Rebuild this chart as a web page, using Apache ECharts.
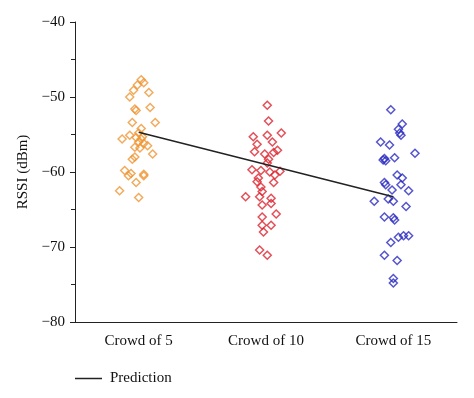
<!DOCTYPE html>
<html>
<head>
<meta charset="utf-8">
<title>RSSI by crowd size</title>
<script src="https://cdn.jsdelivr.net/npm/echarts@6/dist/echarts.min.js"></script>
<style>
  html, body { margin: 0; padding: 0; background: #fff; }
  #chart { width: 474px; height: 398px; }
</style>
</head>
<body>
<div id="chart"></div>
<script>
const categories = ['Crowd of 5', 'Crowd of 10', 'Crowd of 15']
const yTicks = [-80, -70, -60, -50, -40]

// [x position (jittered around the category index), RSSI]
const crowd5 = [
  [1.02, -47.7], [1.04, -48.1], [0.99, -48.4], [0.96, -49.1], [0.93, -50.0],
  [1.08, -49.4], [0.97, -51.6], [0.98, -51.8], [1.09, -51.4], [0.95, -53.4],
  [1.13, -53.4], [1.02, -54.2], [0.87, -55.6], [0.93, -55.1], [0.98, -55.4],
  [1.02, -55.6], [1.00, -56.0], [1.04, -56.2], [1.07, -56.5], [0.97, -56.7],
  [1.01, -56.8], [1.11, -57.6], [0.97, -58.0], [0.95, -58.3], [0.89, -59.8],
  [0.92, -60.5], [1.04, -60.3], [0.98, -61.4], [0.85, -62.5], [1.00, -63.4],
  [1.00, -54.8], [1.03, -55.3], [0.94, -60.2], [1.04, -60.5]
]
const crowd10 = [
  [2.01, -51.1], [2.02, -53.2], [1.90, -55.3], [2.01, -55.1], [2.12, -54.8],
  [1.93, -56.3], [2.05, -56.0], [1.91, -57.3], [2.09, -57.1], [2.06, -57.4],
  [1.99, -57.6], [2.02, -58.3], [2.01, -58.8], [1.89, -59.7], [1.96, -59.8],
  [2.03, -60.0], [2.11, -59.9], [2.07, -60.4], [1.94, -60.8], [1.93, -61.3],
  [2.06, -61.4], [1.96, -62.0], [1.97, -62.6], [1.84, -63.3], [1.95, -63.3],
  [2.04, -63.5], [2.04, -64.2], [1.97, -64.4], [2.08, -65.6], [1.97, -66.0],
  [1.97, -67.1], [2.04, -67.1], [1.98, -68.0], [1.95, -70.4], [2.01, -71.1]
]
const crowd15 = [
  [2.98, -51.7], [3.07, -53.6], [3.04, -54.3], [3.05, -54.8], [3.06, -55.1],
  [2.90, -56.0], [2.97, -56.4], [3.17, -57.5], [2.93, -58.2], [2.94, -58.5],
  [3.01, -58.1], [2.92, -58.4], [3.03, -60.4], [3.07, -60.8], [2.93, -61.4],
  [2.94, -61.7], [3.06, -61.7], [2.99, -62.4], [3.12, -62.5], [2.85, -63.9],
  [2.96, -63.6], [3.00, -63.9], [3.10, -64.6], [2.93, -66.0], [3.00, -66.1],
  [3.01, -66.4], [2.98, -69.4], [3.04, -68.7], [3.08, -68.5], [3.12, -68.5],
  [2.93, -71.1], [3.03, -71.8], [3.00, -74.2], [3.00, -74.8]
]
const prediction = [[1, -54.7], [2, -59.0], [3, -63.3]]

const font = '"Liberation Serif", "DejaVu Serif", serif'
const axisColor = '#222'

const chart = echarts.init(document.getElementById('chart'))

const scatter = (data, color) => ({
  type: 'scatter',
  xAxisIndex: 1,
  data,
  symbol: 'diamond',
  symbolSize: [8, 8],
  itemStyle: { color: 'rgba(0,0,0,0)', borderColor: color, borderWidth: 1.5 },
  silent: true,
})

chart.setOption({
  animation: false,
  textStyle: { fontFamily: font },
  grid: { left: 75, right: 17, top: 22, bottom: 76 },
  legend: {
    data: [{ name: 'Prediction', icon: 'rect' }],
    left: 70,
    top: 366,
    itemWidth: 27,
    itemHeight: 1.5,
    itemGap: 6,
    textStyle: { fontFamily: font, fontSize: 15, color: '#111', padding: [0, 0, 0, 3] },
  },
  xAxis: [
    {
      type: 'category',
      data: categories,
      boundaryGap: true,
      axisLine: { lineStyle: { color: axisColor, width: 1 } },
      axisTick: { alignWithLabel: true, length: 4, lineStyle: { color: axisColor } },
      axisLabel: { margin: 12, fontFamily: font, fontSize: 15, color: '#111' },
    },
    { type: 'value', min: 0.5, max: 3.5, show: false },
  ],
  yAxis: {
    type: 'value',
    min: yTicks[0],
    max: yTicks[yTicks.length - 1],
    interval: 10,
    name: 'RSSI (dBm)',
    nameLocation: 'middle',
    nameRotate: 90,
    nameGap: 42,
    nameTextStyle: { fontFamily: font, fontSize: 15, color: '#111' },
    axisLine: { show: true, lineStyle: { color: axisColor, width: 1 } },
    axisTick: { show: true, length: 5, lineStyle: { color: axisColor } },
    minorTick: { show: true, splitNumber: 2, length: 4, lineStyle: { color: axisColor } },
    splitLine: { show: false },
    axisLabel: {
      margin: 10,
      fontFamily: font,
      fontSize: 15,
      color: '#111',
      formatter: (v) => String(v).replace('-', '\u2212'),
    },
  },
  series: [
    scatter(crowd5, '#EF9635'),
    scatter(crowd10, '#DC2430'),
    scatter(crowd15, '#2A2AC0'),
    {
      name: 'Prediction',
      type: 'line',
      xAxisIndex: 1,
      data: prediction,
      symbol: 'none',
      lineStyle: { color: '#222', width: 1.5 },
      itemStyle: { color: '#222' },
      z: 5,
    },
  ],
})
</script>
</body>
</html>
